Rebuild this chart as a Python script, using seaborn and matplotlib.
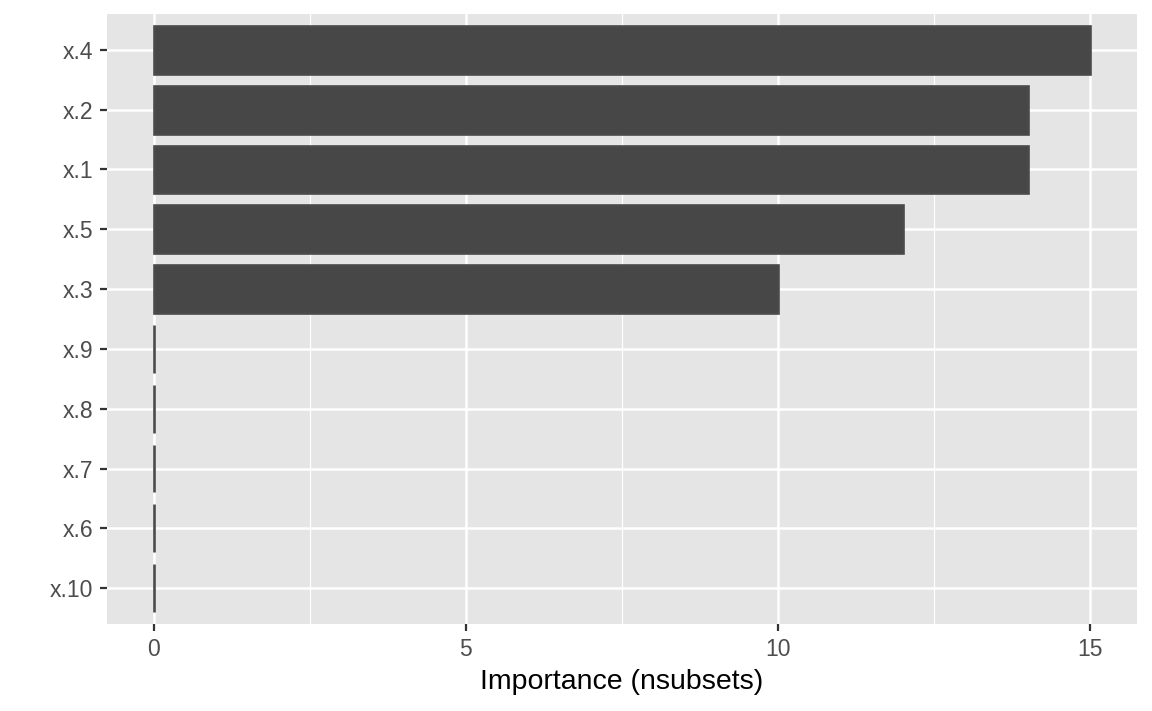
import numpy as np
import pandas as pd
import seaborn as sns
import matplotlib.pyplot as plt

# Data (top to bottom)
variables = ["x.4", "x.2", "x.1", "x.5", "x.3", "x.9", "x.8", "x.7", "x.6", "x.10"]
importance = [15, 14, 14, 12, 10, 0, 0, 0, 0, 0]

df = pd.DataFrame({"Variable": variables, "Importance": importance})

# ggplot-like theme
sns.set_theme(style="darkgrid", rc={
    "axes.facecolor": "#E5E5E5",
    "grid.color": "white",
})
plt.rcParams["font.family"] = ["Liberation Sans", "DejaVu Sans"]

fig = plt.figure(figsize=(11.52, 7.11), dpi=100)
ax = fig.add_axes([107 / 1152, 1 - 624 / 711, 1030 / 1152, 610 / 711])

sns.barplot(data=df, x="Importance", y="Variable", order=variables,
            orient="h", color="#474747", saturation=1, width=0.8,
            edgecolor="#4A4A4A", linewidth=1.9, ax=ax)

# Axes limits
ax.set_xlim(-0.75, 15.75)
ax.set_ylim(len(variables) - 0.4, -0.6)

# Grid
ax.set_xticks([0, 5, 10, 15])
ax.set_xticks([2.5, 7.5, 12.5], minor=True)
ax.grid(True, which="major", color="white", linewidth=1.8)
ax.grid(True, which="minor", axis="x", color="white", linewidth=0.9)
ax.set_axisbelow(True)
for s in ax.spines.values():
    s.set_visible(False)

# Ticks
ax.tick_params(axis="both", which="major", length=5, width=1.6,
               color="#333333", labelcolor="#4D4D4D", labelsize=16.5, pad=5,
               bottom=True, left=True)
ax.tick_params(axis="x", which="minor", length=0)
ax.set_ylabel("")
ax.set_xlabel("Importance (nsubsets)", fontsize=20.5, color="black", labelpad=6)

fig.savefig("out.png", dpi=100)
